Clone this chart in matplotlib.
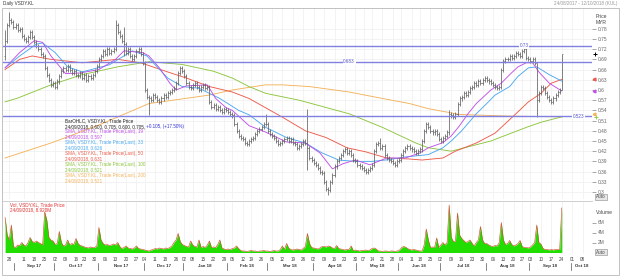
import numpy as np
import pandas as pd
import matplotlib
matplotlib.use("Agg")
import matplotlib.pyplot as plt
from matplotlib.patches import Rectangle
from matplotlib.transforms import blended_transform_factory

plt.rcParams['font.family'] = ['Liberation Sans', 'DejaVu Sans']

# ---------------------------------------------------------------- data
# daily closes, 24/08/2017 .. 24/09/2018 (trading days)
closes = [
    0.745, 0.790, 0.805, 0.800, 0.785, 0.790, 0.775, 0.780, 0.760, 0.750,
    0.745, 0.755, 0.770, 0.755, 0.740, 0.730, 0.720, 0.705, 0.700, 0.665,
    0.645, 0.630, 0.615, 0.620, 0.610, 0.625, 0.640, 0.655, 0.665, 0.660,
    0.670, 0.660, 0.650, 0.655, 0.645, 0.640, 0.650, 0.635, 0.645, 0.630,
    0.640, 0.635, 0.645, 0.655, 0.670, 0.690, 0.700, 0.715, 0.705, 0.720,
    0.710, 0.715, 0.720, 0.790, 0.770, 0.760, 0.745, 0.735, 0.710, 0.720,
    0.700, 0.690, 0.700, 0.715, 0.720, 0.705, 0.680, 0.600, 0.580, 0.575,
    0.570, 0.585, 0.580, 0.570, 0.565, 0.575, 0.585, 0.580, 0.590, 0.595,
    0.600, 0.605, 0.620, 0.650, 0.665, 0.655, 0.640, 0.620, 0.610, 0.605,
    0.615, 0.620, 0.610, 0.600, 0.610, 0.615, 0.605, 0.610, 0.565, 0.550,
    0.555, 0.545, 0.550, 0.540, 0.535, 0.545, 0.540, 0.535, 0.530, 0.525,
    0.500, 0.480, 0.465, 0.460, 0.455, 0.445, 0.440, 0.450, 0.455, 0.460,
    0.470, 0.480, 0.485, 0.490, 0.500, 0.500, 0.480, 0.470, 0.465, 0.460,
    0.450, 0.440, 0.445, 0.450, 0.455, 0.460, 0.450, 0.455, 0.445, 0.440,
    0.430, 0.435, 0.440, 0.450, 0.445, 0.430, 0.400, 0.395, 0.385, 0.380,
    0.370, 0.360, 0.355, 0.330, 0.310, 0.305, 0.330, 0.350, 0.375, 0.390,
    0.400, 0.410, 0.420, 0.425, 0.415, 0.420, 0.410, 0.395, 0.390, 0.380,
    0.375, 0.370, 0.365, 0.360, 0.365, 0.370, 0.380, 0.420, 0.440, 0.445,
    0.430, 0.435, 0.410, 0.400, 0.395, 0.390, 0.385, 0.380, 0.390, 0.395,
    0.410, 0.420, 0.430, 0.435, 0.430, 0.425, 0.420, 0.415, 0.420, 0.425,
    0.450, 0.480, 0.500, 0.490, 0.480, 0.475, 0.480, 0.470, 0.455, 0.450,
    0.460, 0.465, 0.475, 0.530, 0.525, 0.520, 0.530, 0.560, 0.575, 0.580,
    0.590, 0.585, 0.595, 0.605, 0.610, 0.620, 0.615, 0.625, 0.620, 0.630,
    0.635, 0.630, 0.625, 0.620, 0.615, 0.610, 0.605, 0.610, 0.660, 0.685,
    0.690, 0.690, 0.700, 0.695, 0.700, 0.710, 0.705, 0.700, 0.715, 0.720,
    0.695, 0.690, 0.685, 0.690, 0.680, 0.570, 0.590, 0.610, 0.605, 0.590,
    0.580, 0.570, 0.565, 0.575, 0.585, 0.595, 0.600, 0.705,
]
first_open = 0.700
high_fix = {0: 0.776, 2: 0.830, 53: 0.805, 57: 0.785, 125: 0.530, 145: 0.545,
            180: 0.460, 213: 0.540, 249: 0.735, 255: 0.680, 267: 0.705}
low_fix = {0: 0.688, 57: 0.700, 69: 0.525, 145: 0.365, 155: 0.290,
           255: 0.520, 267: 0.600}

# volume, millions
volume = [
    7.0, 3.5, 2.5, 5.5, 1.2, 1.0, 1.5, 1.4, 2.0, 1.5,
    1.3, 2.0, 3.0, 2.2, 2.0, 2.3, 2.0, 1.8, 1.5, 8.1,
    6.5, 3.0, 2.5, 2.3, 1.6, 1.8, 4.2, 2.0, 1.3, 1.5,
    2.5, 1.5, 1.8, 1.6, 2.8, 1.8, 1.4, 1.3, 1.1, 1.0,
    0.9, 1.1, 1.0, 1.0, 1.3, 5.0, 2.5, 1.8, 1.5, 1.6,
    1.4, 1.5, 1.7, 1.5, 2.0, 1.2, 0.8, 1.0, 1.3, 0.9,
    0.8, 0.7, 0.9, 1.3, 0.8, 0.7, 0.6, 0.5, 0.4, 0.3,
    0.5, 0.6, 0.8, 0.7, 0.9, 0.8, 0.7, 0.9, 0.8, 1.0,
    1.3, 2.0, 2.5, 3.8, 2.2, 1.6, 1.4, 1.2, 1.1, 2.3,
    1.5, 1.2, 1.1, 2.5, 1.0, 1.2, 1.0, 1.5, 2.3, 1.0,
    1.1, 1.0, 1.6, 2.5, 0.9, 0.7, 0.6, 0.7, 0.6, 0.8,
    0.9, 1.3, 0.8, 0.4, 0.3, 0.3, 0.2, 0.3, 0.4, 0.3,
    0.3, 0.2, 0.3, 0.3, 0.4, 0.3, 0.3, 0.2, 0.3, 0.4,
    0.3, 0.3, 0.6, 1.3, 0.6, 1.8, 0.9, 0.6, 0.5, 0.6,
    0.7, 0.6, 0.5, 0.8, 1.2, 3.8, 1.8, 1.0, 0.9, 0.8,
    0.7, 0.9, 1.2, 1.2, 1.1, 1.3, 1.2, 0.9, 0.8, 1.4,
    0.8, 0.7, 0.6, 0.5, 0.6, 0.6, 1.3, 0.4, 0.5, 0.4,
    0.3, 0.4, 0.4, 0.5, 0.4, 0.5, 0.8, 0.9, 0.7, 0.3,
    0.3, 0.2, 0.3, 0.3, 0.2, 0.3, 0.3, 0.2, 0.3, 0.4,
    0.9, 1.2, 1.1, 0.8, 0.6, 0.5, 0.6, 0.5, 0.4, 0.3,
    0.3, 1.5, 4.7, 2.5, 1.0, 1.1, 1.0, 2.9, 1.0, 1.5,
    2.0, 1.5, 2.0, 9.5, 3.0, 2.2, 2.2, 7.9, 3.5, 2.8,
    2.4, 2.0, 2.2, 2.5, 1.8, 1.3, 2.0, 2.5, 5.2, 2.5,
    1.8, 1.8, 1.5, 1.3, 1.2, 1.4, 1.3, 2.0, 6.0, 2.5,
    1.6, 1.8, 2.4, 1.6, 1.3, 1.5, 1.8, 2.4, 1.2, 1.0,
    1.0, 0.9, 1.1, 1.5, 2.0, 5.5, 2.0, 1.7, 0.8, 0.6,
    0.6, 0.5, 0.6, 0.5, 0.6, 0.6, 0.6, 8.92,
]

# moving averages (bar number, value)
sma19_idx = [0, 7, 14, 18, 22, 29, 36, 45, 53, 57, 66, 69, 74, 79, 82, 87, 97, 101, 106, 109,
             117, 125, 135, 144, 151, 157, 162, 168, 175, 183, 192, 199, 203, 210, 214, 218,
             222, 226, 233, 238, 242, 246, 250, 253, 256, 261, 267]
sma19_val = [0.665, 0.71, 0.745, 0.74, 0.70, 0.648, 0.65, 0.66, 0.69, 0.715, 0.71, 0.70, 0.665,
             0.62, 0.60, 0.612, 0.615, 0.575, 0.548, 0.54, 0.495, 0.476, 0.447, 0.444, 0.415,
             0.368, 0.383, 0.394, 0.38, 0.40, 0.40, 0.415, 0.43, 0.445, 0.465, 0.495, 0.53,
             0.56, 0.60, 0.62, 0.645, 0.668, 0.68, 0.68, 0.653, 0.62, 0.597]
sma33_idx = [0, 7, 15, 18, 24, 30, 37, 50, 61, 68, 78, 85, 93, 103, 112, 117, 125, 135, 144,
             152, 160, 168, 176, 184, 192, 203, 210, 214, 219, 226, 231, 235, 242, 246, 251,
             255, 261, 267]
sma33_val = [0.665, 0.70, 0.735, 0.738, 0.71, 0.668, 0.653, 0.674, 0.715, 0.70, 0.635, 0.61,
             0.605, 0.575, 0.54, 0.527, 0.49, 0.46, 0.444, 0.415, 0.394, 0.39, 0.39, 0.395,
             0.403, 0.41, 0.43, 0.45, 0.48, 0.53, 0.56, 0.585, 0.61, 0.64, 0.665, 0.668,
             0.645, 0.626]
sma50_idx = [0, 7, 13, 22, 37, 54, 65, 78, 87, 98, 109, 117, 133, 144, 154, 164, 173, 183,
             194, 200, 210, 216, 226, 235, 245, 251, 257, 262, 267]
sma50_val = [0.66, 0.69, 0.70, 0.69, 0.68, 0.69, 0.68, 0.653, 0.635, 0.61, 0.594, 0.575, 0.52,
             0.48, 0.46, 0.43, 0.418, 0.40, 0.397, 0.394, 0.40, 0.42, 0.444, 0.473, 0.53,
             0.565, 0.59, 0.62, 0.631]
sma100_idx = [0, 6, 22, 37, 54, 69, 85, 100, 109, 117, 125, 141, 165, 181, 197, 203, 214, 233,
              250, 257, 267]
sma100_val = [0.565, 0.576, 0.615, 0.645, 0.668, 0.683, 0.675, 0.655, 0.635, 0.61, 0.59, 0.57,
              0.53, 0.49, 0.444, 0.43, 0.42, 0.45, 0.49, 0.505, 0.521]
sma200_idx = [0, 22, 45, 69, 98, 109, 125, 133, 146, 165, 181, 194, 203, 218, 242, 267]
sma200_val = [0.40, 0.444, 0.497, 0.56, 0.585, 0.60, 0.615, 0.615, 0.61, 0.594, 0.575, 0.56,
              0.545, 0.528, 0.523, 0.521]

levels = [0.73, 0.683, 0.523]
level_text = ["0.73", "0.683", "0.523"]
level_at = [249, 165, 275]

holidays = ["2017-08-31", "2017-09-01", "2017-09-04", "2017-10-18", "2017-12-01",
            "2017-12-25", "2018-01-01", "2018-01-31", "2018-02-16", "2018-05-01",
            "2018-05-09", "2018-05-29", "2018-06-15", "2018-08-22", "2018-08-31"]

tick_days = ["2017-08-28", "2017-09-11", "2017-09-18", "2017-09-25", "2017-10-02", "2017-10-09",
             "2017-10-16", "2017-10-23", "2017-10-30", "2017-11-06", "2017-11-13", "2017-11-20",
             "2017-11-27", "2017-12-04", "2017-12-11", "2017-12-18", "2017-12-26", "2018-01-02",
             "2018-01-08", "2018-01-15", "2018-01-22", "2018-01-29", "2018-02-05", "2018-02-12",
             "2018-02-19", "2018-02-26", "2018-03-05", "2018-03-12", "2018-03-19", "2018-03-26",
             "2018-04-02", "2018-04-09", "2018-04-16", "2018-04-23", "2018-04-30", "2018-05-07",
             "2018-05-14", "2018-05-21", "2018-05-28", "2018-06-04", "2018-06-11", "2018-06-18",
             "2018-06-25", "2018-07-02", "2018-07-09", "2018-07-16", "2018-07-23", "2018-07-30",
             "2018-08-06", "2018-08-13", "2018-08-20", "2018-08-27", "2018-09-03", "2018-09-10",
             "2018-09-17", "2018-09-24", "2018-10-01", "2018-10-08"]

# ---------------------------------------------------------------- prep
dates = pd.bdate_range("2017-08-24", "2018-10-12")
dates = dates[~dates.isin(pd.to_datetime(holidays))]

c = np.array(closes)
n = len(c)
x = np.arange(n)
o = np.r_[first_open, c[:-1]]
hi = np.maximum(o, c) + 0.006
lo = np.minimum(o, c) - 0.006
for k, v in high_fix.items():
    hi[k] = v
for k, v in low_fix.items():
    lo[k] = v
vol = np.array(volume)

W, H = 620, 276
def box(x0, y0, x1, y1):
    return [x0 / W, 1 - y1 / H, (x1 - x0) / W, (y1 - y0) / H]
def ftxt(px, py, s, **kw):
    kw.setdefault("fontsize", 3.3)
    kw.setdefault("va", "center")
    return fig.text(px / W, 1 - py / H, s, **kw)

fig = plt.figure(figsize=(6.2, 2.76), dpi=100)
axp = fig.add_axes(box(3, 8, 592, 199))
axv = fig.add_axes(box(3, 201, 592, 254))

tick_pos = [dates.searchsorted(pd.Timestamp(d)) for d in tick_days]
xmax = len(dates) - 0.5

# ---------------------------------------------------------------- price panel
gridc = "#efefef"
for p in tick_pos:
    axp.axvline(p, color=gridc, lw=0.5, zorder=0)
    axv.axvline(p, color=gridc, lw=0.5, zorder=0)
yt = np.round(np.arange(0.30, 0.781, 0.03), 2)
for v in yt:
    axp.axhline(v, color=gridc, lw=0.5, zorder=0)

barc = "#606060"
axp.vlines(x, lo, hi, color=barc, lw=0.55, zorder=3)
axp.hlines(o, x - 0.5, x, color=barc, lw=0.5, zorder=3)
axp.hlines(c, x, x + 0.5, color=barc, lw=0.5, zorder=3)

axp.plot(sma200_idx, sma200_val, color="#f4b25c", lw=0.65, zorder=2)
axp.plot(sma100_idx, sma100_val, color="#8cc63e", lw=0.65, zorder=2)
axp.plot(sma50_idx, sma50_val, color="#ee5a4a", lw=0.65, zorder=2)
axp.plot(sma33_idx, sma33_val, color="#4aa8f0", lw=0.65, zorder=2)
axp.plot(sma19_idx, sma19_val, color="#c050e8", lw=0.65, zorder=2)

for lv, lt, la in zip(levels, level_text, level_at):
    axp.axhline(lv, color="#8080e0", lw=1.0, zorder=4)
    axp.text(la, lv, lt, fontsize=3.3, color="#5555cc", ha="center", va="center", zorder=5,
             bbox=dict(boxstyle="square,pad=0.15", fc="white", ec="none"))

axp.set_xlim(-1, xmax)
axp.set_ylim(0.2794, 0.841)
axp.set_xticks([])
axp.yaxis.tick_right()
axp.set_yticks(yt)
axp.set_yticklabels(["%g" % v for v in yt])
axp.tick_params(axis="y", length=3, width=0.4, pad=1, labelsize=3.5, colors="#666666")
for s in ["left", "top", "bottom", "right"]:
    axp.spines[s].set_visible(False)

# right side markers
tr = blended_transform_factory(axp.transAxes, axp.transData)
axp.plot([1.005], [0.705], marker="+", color="black", ms=3, mew=0.7, transform=tr, clip_on=False)
axp.plot([1.004], [0.631], marker="<", color="#ee5a4a", ms=2, transform=tr, clip_on=False)
axp.plot([1.004], [0.597], marker="<", color="#c050e8", ms=2, transform=tr, clip_on=False)
axp.plot([1.004], [0.530], marker="<", color="#f4b25c", ms=2, transform=tr, clip_on=False)
axp.plot([1.006], [0.521], marker="+", color="#8cc63e", ms=2.5, mew=0.6, transform=tr, clip_on=False)

# ---------------------------------------------------------------- volume panel
axv.fill_between(x, 0, vol, color="#22dd00", lw=0, zorder=2)
axv.plot(x, vol, color="#d05030", lw=0.45, zorder=3)
axv.set_xlim(-1, xmax)
axv.set_ylim(-0.3, 10.3)
axv.yaxis.tick_right()
axv.set_yticks([2, 4, 6])
axv.set_yticklabels(["2M", "4M", "6M"])
axv.tick_params(axis="y", length=3, width=0.4, pad=1, labelsize=3.5, colors="#666666")
axv.set_xticks(tick_pos)
axv.set_xticklabels(["%02d" % pd.Timestamp(d).day for d in tick_days])
axv.tick_params(axis="x", length=0, pad=2.5, labelsize=3.3, colors="#444444")
for s in ["left", "right", "bottom"]:
    axv.spines[s].set_visible(False)
axv.spines["top"].set_color("#c8c8c8")
axv.spines["top"].set_linewidth(0.6)

# month labels and separators
months = pd.period_range("2017-09", "2018-10", freq="M")
tv = blended_transform_factory(axv.transData, fig.transFigure)
inv = fig.transFigure.inverted()
for m in months:
    idx = np.where(dates.to_period("M") == m)[0]
    a, b = idx[0], min(idx[-1], xmax)
    fx = inv.transform(axv.transData.transform(((a + b) / 2, 0)))[0]
    fig.text(fx, 1 - 266 / H, m.strftime("%b %y"), fontsize=3.2, fontweight="bold",
             ha="center", va="center", color="#333333")
    axv.plot([a - 0.5, a - 0.5], [1 - 263 / H, 1 - 270 / H], color="#555555", lw=0.5,
             transform=tv, clip_on=False)

# ---------------------------------------------------------------- texts
ftxt(3, 4, "Daily VSDY.KL", color="#333333")
ftxt(617, 4, "24/08/2017 - 12/10/2018 (KUL)", color="#999999", ha="right")
ftxt(596, 17, "Price", color="#444444", fontsize=3.6)
ftxt(596, 23, "MYR", color="#444444", fontsize=3.6)
ftxt(596, 213, "Volume", color="#444444", fontsize=3.6)
for yy in (197, 252):
    ftxt(596, yy, "Auto", color="#444444", fontsize=3.3,
         bbox=dict(boxstyle="square,pad=0.2", fc="#e6e6e6", ec="#888888", lw=0.4))

leg = [("BarOHLC, VSDY.KL, Trade Price", "#222222"),
       ("24/09/2018, 0.600, 0.705, 0.600, 0.705,", "#222222"),
       ("SMA, VSDY.KL, Trade Price(Last), 19", "#c050e8"),
       ("24/09/2018, 0.597", "#c050e8"),
       ("SMA, VSDY.KL, Trade Price(Last), 33", "#4aa8f0"),
       ("24/09/2018, 0.626", "#4aa8f0"),
       ("SMA, VSDY.KL, Trade Price(Last), 50", "#ee5a4a"),
       ("24/09/2018, 0.631", "#ee5a4a"),
       ("SMA, VSDY.KL, Trade Price(Last), 100", "#8cc63e"),
       ("24/09/2018, 0.521", "#8cc63e"),
       ("SMA, VSDY.KL, Trade Price(Last), 200", "#f4b25c"),
       ("24/09/2018, 0.521", "#f4b25c")]
for k, (s, col) in enumerate(leg):
    t = ftxt(65, 121 + 5.4 * k, s, color=col)
    if k == 1:
        axp.annotate(" +0.105, (+17.50%)", xy=(1, 0), xycoords=t, va="bottom",
                     fontsize=3.3, color="#3333dd")
ftxt(10, 205, "Vol, VSDY.KL, Trade Price", color="#e03030")
ftxt(10, 210, "24/09/2018, 8.920M", color="#e03030")

# frame
fig.patches.append(Rectangle((2 / W, 1 - 275 / H), 617 / W, 267 / H, transform=fig.transFigure,
                             fill=False, ec="#b8b8b8", lw=0.6))

fig.savefig("out.png", dpi=100)
